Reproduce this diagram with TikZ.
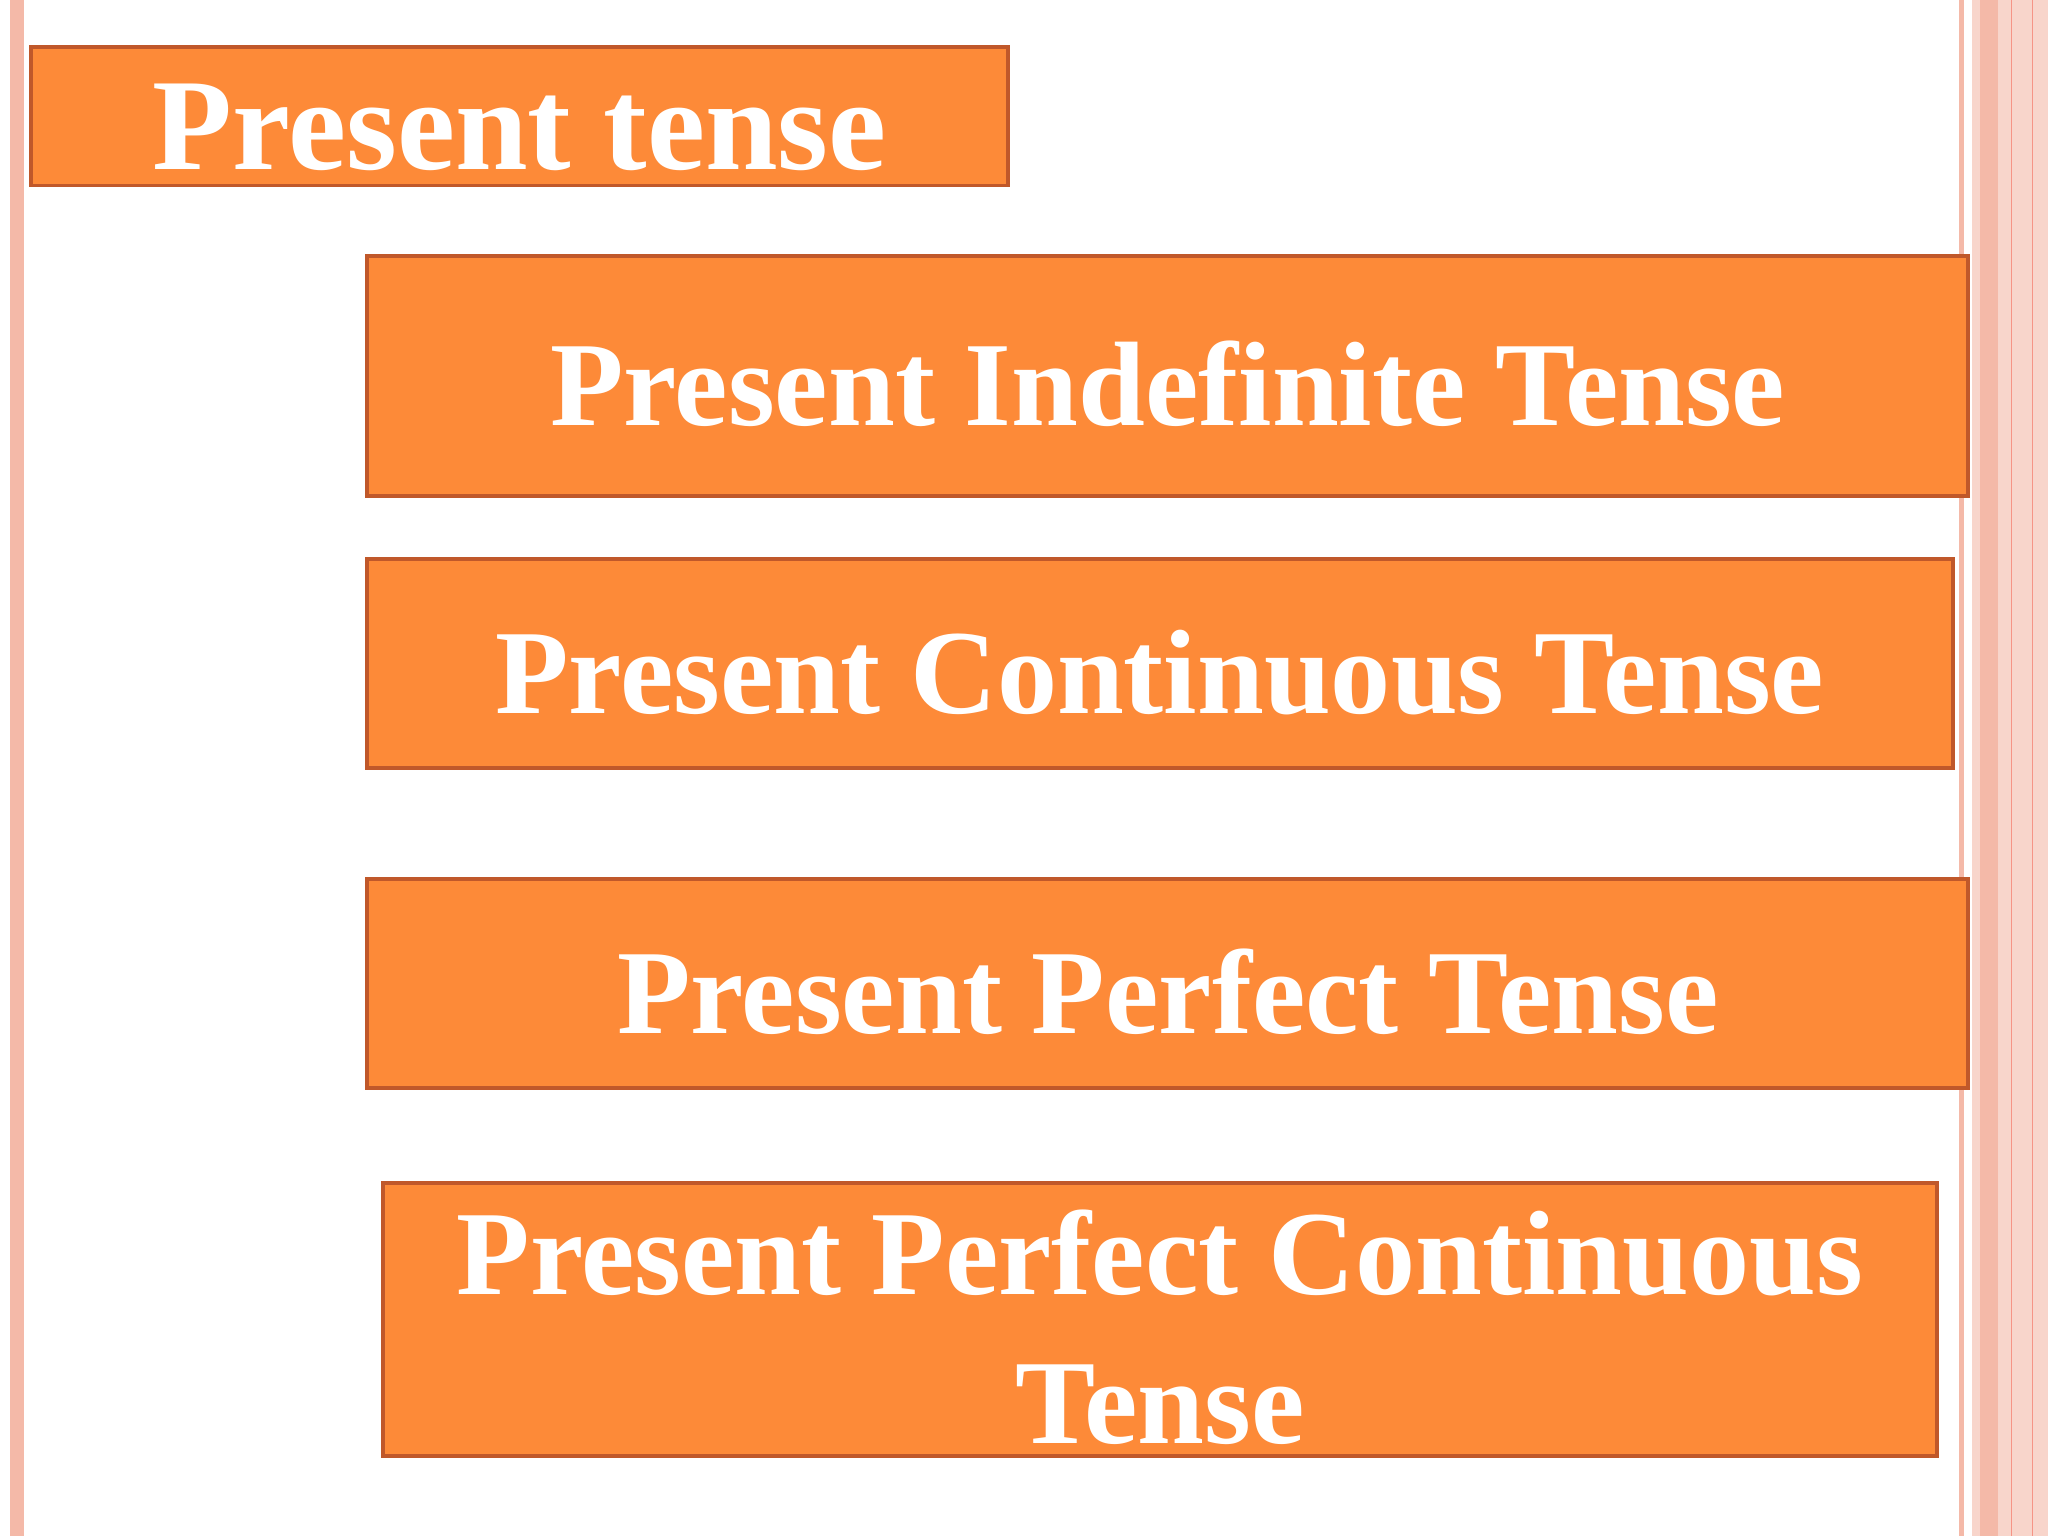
\documentclass[tikz,border=0pt]{standalone}
\usepackage{fontspec}
\setmainfont{Liberation Serif}
\begin{document}
\begin{tikzpicture}[x=1pt,y=-1pt,
 box/.style={draw=#1,line width=3pt,fill=boxfill},
 lbl/.style={text=white,font=\fontsize{92}{110}\selectfont\bfseries,anchor=base}]
\definecolor{boxfill}{HTML}{FD8A38}
\definecolor{boxedge}{HTML}{C0582A}
\definecolor{stripe}{HTML}{F4B9A8}
\useasboundingbox (0,0) rectangle (1568,1176);
\fill[white] (0,0) rectangle (1568,1176);
% side decorations
\fill[stripe] (8,0) rectangle (18,1176);
\fill[stripe] (1500,0) rectangle (1504,1176);
\fill[stripe!60] (1510,0) rectangle (1568,1176);
\fill[stripe] (1516,0) rectangle (1530,1176);
\draw[stripe!80!red,line width=1pt] (1540,0) -- (1540,1176);
\draw[stripe!80!red,line width=1pt] (1556,0) -- (1556,1176);
% boxes
\draw[box=boxedge] (24,36) rectangle (772,142);
\draw[box=boxedge] (281,196) rectangle (1507,380);
\draw[box=boxedge] (281,428) rectangle (1495,588);
\draw[box=boxedge] (281,673) rectangle (1507,833);
\draw[box=boxedge] (293,906) rectangle (1483,1115);
\node[lbl,font=\fontsize{100}{110}\selectfont\bfseries] (t0) at (398,130) {Present tense};
\node[lbl] (t1) at (894,326) {Present Indefinite Tense};
\node[lbl] (t2) at (888,546) {Present Continuous Tense};
\node[lbl] (t3) at (894,791) {Present Perfect Tense};
\node[lbl] (t4) at (888,991) {Present Perfect Continuous};
\node[lbl] (t5) at (888,1105) {Tense};
\end{tikzpicture}
\end{document}
